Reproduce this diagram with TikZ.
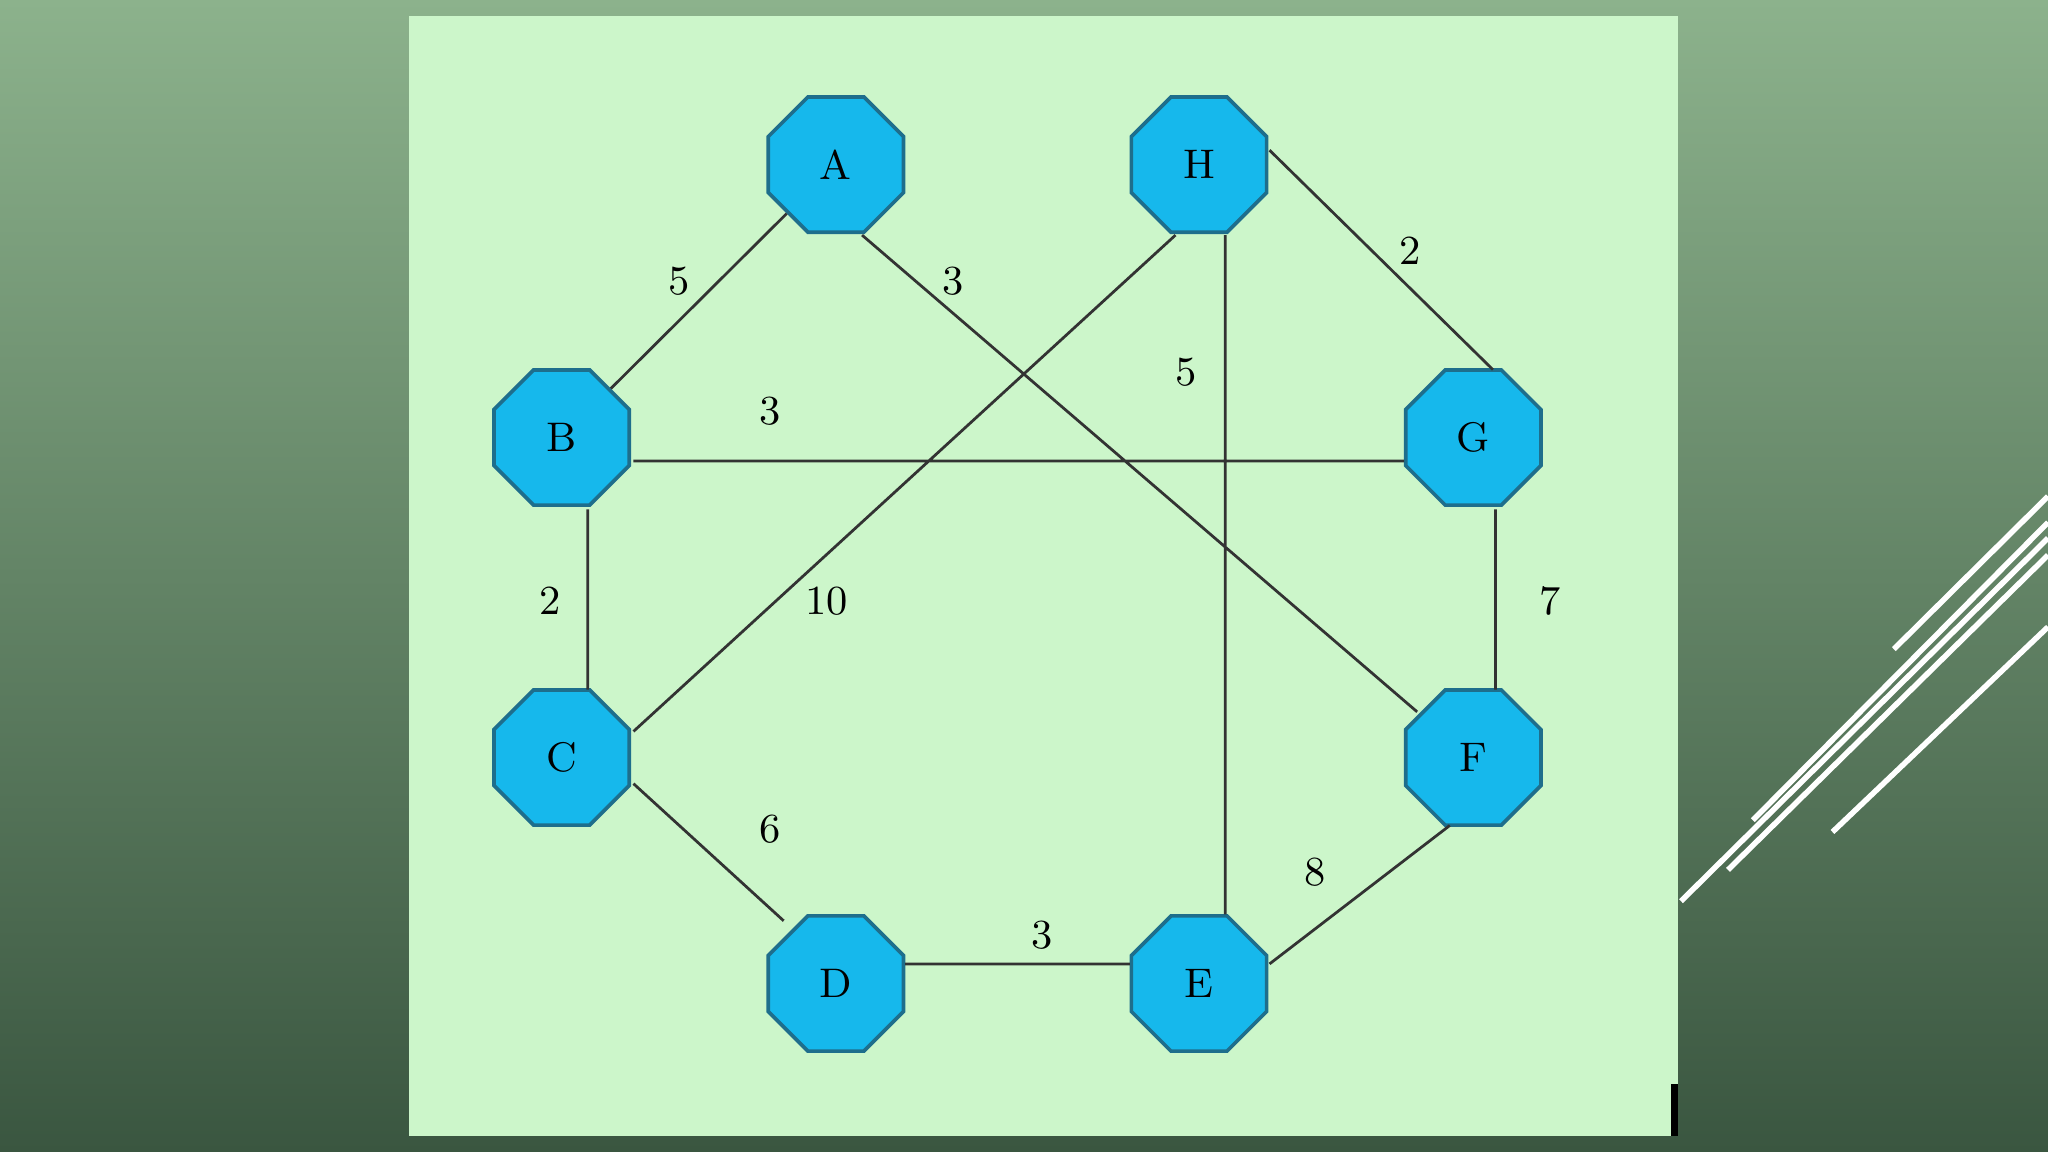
\documentclass[tikz,border=0pt]{standalone}
\usetikzlibrary{shapes.geometric}
\definecolor{bgtop}{RGB}{140,178,140}
\definecolor{bgbot}{RGB}{58,86,64}
\definecolor{panel}{RGB}{204,246,202}
\definecolor{octfill}{RGB}{22,184,236}
\definecolor{octdraw}{RGB}{30,110,140}
\begin{document}
\begin{tikzpicture}[x=0.01cm,y=-0.01cm,
  oct/.style={regular polygon,regular polygon sides=8,minimum size=1.12cm,fill=octfill,draw=octdraw,line width=0.8pt,inner sep=0pt,font=\fontsize{9}{11}\selectfont},
  edge/.style={draw=black!80,line width=0.6pt},
  lab/.style={font=\fontsize{9}{11}\selectfont}]
\shade[top color=bgtop,bottom color=bgbot] (0,0) rectangle (1568,882);
\useasboundingbox (0,0) rectangle (1568,882);
\fill[panel] (313,12) rectangle (1285,870);
\draw[black,line width=1.5pt] (1282,830) -- (1282,870);
\begin{scope}[white,line width=1.2pt]
\draw (1450,497) -- (1568,380);
\draw (1342,628) -- (1568,400);
\draw (1323,666) -- (1568,425);
\draw (1403,637) -- (1568,480);
\draw (1287,690) -- (1568,412);
\end{scope}
\node[oct] (A) at (640,126) {A};
\node[oct] (H) at (918,126) {H};
\node[oct] (B) at (430,335) {B};
\node[oct] (G) at (1128,335) {G};
\node[oct] (C) at (430,580) {C};
\node[oct] (F) at (1128,580) {F};
\node[oct] (D) at (640,753) {D};
\node[oct] (E) at (918,753) {E};
\path[edge] (A) -- (B)
  ([shift={(20,54)}]A.center) -- ([shift={(-43,-35)}]F.center)
  ([shift={(-18,54)}]H.center) -- ([shift={(55,-20)}]C.center)
  ([shift={(20,54)}]H.center) -- ([shift={(20,-53)}]E.center)
  ([shift={(54,-11)}]H.center) -- ([shift={(15,-52)}]G.center)
  ([shift={(55,18)}]B.center) -- ([shift={(-53,18)}]G.center)
  ([shift={(20,55)}]B.center) -- ([shift={(20,-52)}]C.center)
  ([shift={(17,55)}]G.center) -- ([shift={(17,-52)}]F.center)
  ([shift={(55,20)}]C.center) -- ([shift={(-40,-48)}]D.center)
  ([shift={(53,-15)}]D.center) -- ([shift={(-53,-15)}]E.center)
  ([shift={(54,-15)}]E.center) -- ([shift={(-18,52)}]F.center);
\node[lab] (l1) at (520,215) {5};
\node[lab] (l2) at (730,215) {3};
\node[lab] (l3) at (590,315) {3};
\node[lab] (l4) at (908,285) {5};
\node[lab] (l5) at (1080,192) {2};
\node[lab] (l6) at (633,460) {10};
\node[lab] (l7) at (421,460) {2};
\node[lab] (l8) at (1187,460) {7};
\node[lab] (l9) at (590,635) {6};
\node[lab] (l10) at (798,716) {3};
\node[lab] (l11) at (1007,668) {8};
\end{tikzpicture}
\end{document}
